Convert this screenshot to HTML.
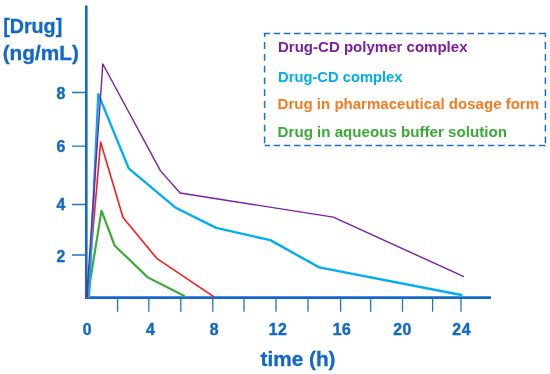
<!DOCTYPE html>
<html><head><meta charset="utf-8">
<style>
html,body{margin:0;padding:0;background:#fff;}
svg{display:block;}
text{font-family:"Liberation Sans",sans-serif;font-weight:bold;}
</style></head>
<body>
<svg width="550" height="374" viewBox="0 0 550 374">
<rect width="550" height="374" fill="#fff"/>
<!-- legend box -->
<g fill="none" stroke="#1a70cc" stroke-width="1.5" stroke-linecap="butt">
<path d="M264.6 33.5H545.4M264.6 145.6H545.4" stroke-dasharray="6.6 3.6" stroke-dashoffset="1.2"/>
<path d="M264.6 32.75V146.35M545.4 32.75V146.35" stroke-dasharray="6.8 5" stroke-dashoffset="2.45"/>
</g>
<g font-size="14.6" stroke-width="0">
<text x="278" y="52.3" fill="#7b1fa2" stroke="#7b1fa2" textLength="189.5" lengthAdjust="spacingAndGlyphs">Drug-CD polymer complex</text>
<text x="278" y="81.6" fill="#00aeef" stroke="#00aeef" textLength="124.5" lengthAdjust="spacingAndGlyphs">Drug-CD complex</text>
<text x="277.6" y="108.7" fill="#f47b20" stroke="#f47b20" textLength="261.5" lengthAdjust="spacingAndGlyphs">Drug in pharmaceutical dosage form</text>
<text x="277.6" y="137.4" fill="#3aaa35" stroke="#3aaa35" textLength="229.3" lengthAdjust="spacingAndGlyphs">Drug in aqueous buffer solution</text>
</g>
<!-- axis titles -->
<g font-size="19.7" fill="#1268c6" stroke="#1268c6" stroke-width="0.3">
<text x="3.2" y="33.2" textLength="59" lengthAdjust="spacingAndGlyphs">[Drug]</text>
<text x="2.7" y="59.5" textLength="76.2" lengthAdjust="spacingAndGlyphs">(ng/mL)</text>
<text x="260.5" y="365.5" textLength="75" lengthAdjust="spacingAndGlyphs">time (h)</text>
</g>
<!-- tick labels -->
<g font-size="15.8" fill="#1268c6" stroke="#1268c6" stroke-width="0.4" text-anchor="middle">
<text x="60.8" y="99.3">8</text>
<text x="60.8" y="151.6">6</text>
<text x="61" y="210.1">4</text>
<text x="60.8" y="261.6">2</text>
<text x="87.1" y="334.7">0</text>
<text x="150.5" y="334.7">4</text>
<text x="214.2" y="334.7">8</text>
<text x="277.7" y="334.7" letter-spacing="0.5" dx="0.25">12</text>
<text x="341.8" y="334.7" letter-spacing="0.5" dx="0.25">16</text>
<text x="402.2" y="334.7" letter-spacing="0.5" dx="0.25">20</text>
<text x="461.4" y="334.7" letter-spacing="0.5" dx="0.25">24</text>
</g>
<!-- ticks -->
<g stroke="#1f75c8" stroke-width="1.3" fill="none">
<path d="M72 92.5H86M72 146.2H86M72 204.5H86M72 255H86"/>
<path d="M117.6 297V311.8M148.8 297V311.8M180.8 297V311.8M212.8 297V311.8M244 297V311.8M276 297V311.8M308 297V311.8M340.6 297V311.8M370.7 297V311.8M402.5 297V311.8M432.6 297V311.8M461 297V311.8"/>
</g>
<!-- axes -->
<g stroke="#1468c6" stroke-width="2.6" fill="none">
<path d="M86.3 5.5V299"/>
<path d="M85 297.6H491"/>
</g>
<!-- data lines -->
<g fill="none" stroke-linejoin="round" stroke-linecap="round">
<polyline stroke="#3aaa35" stroke-width="2.15" points="87.6,296.8 101.5,210.7 114.6,245.5 147.8,277.4 183.9,295.7"/>
<polyline stroke="#ff1a1a" stroke-width="1.6" points="87.3,296.8 100.6,142 123,217.4 156.7,258.3 213.3,296.3"/>
<polyline stroke="#00aeef" stroke-width="2.35" points="89,296.8 98.3,94.1 128.7,168.3 175.8,207.8 216.2,227.9 270.3,240.1 319.2,267.4 461.4,295"/>
<polyline stroke="#7b1fa2" stroke-width="1.4" points="86.7,296.8 102.8,64 160.5,170.9 180.1,193 333.3,217.1 463.3,276.4"/>
</g>
</svg>
</body></html>
